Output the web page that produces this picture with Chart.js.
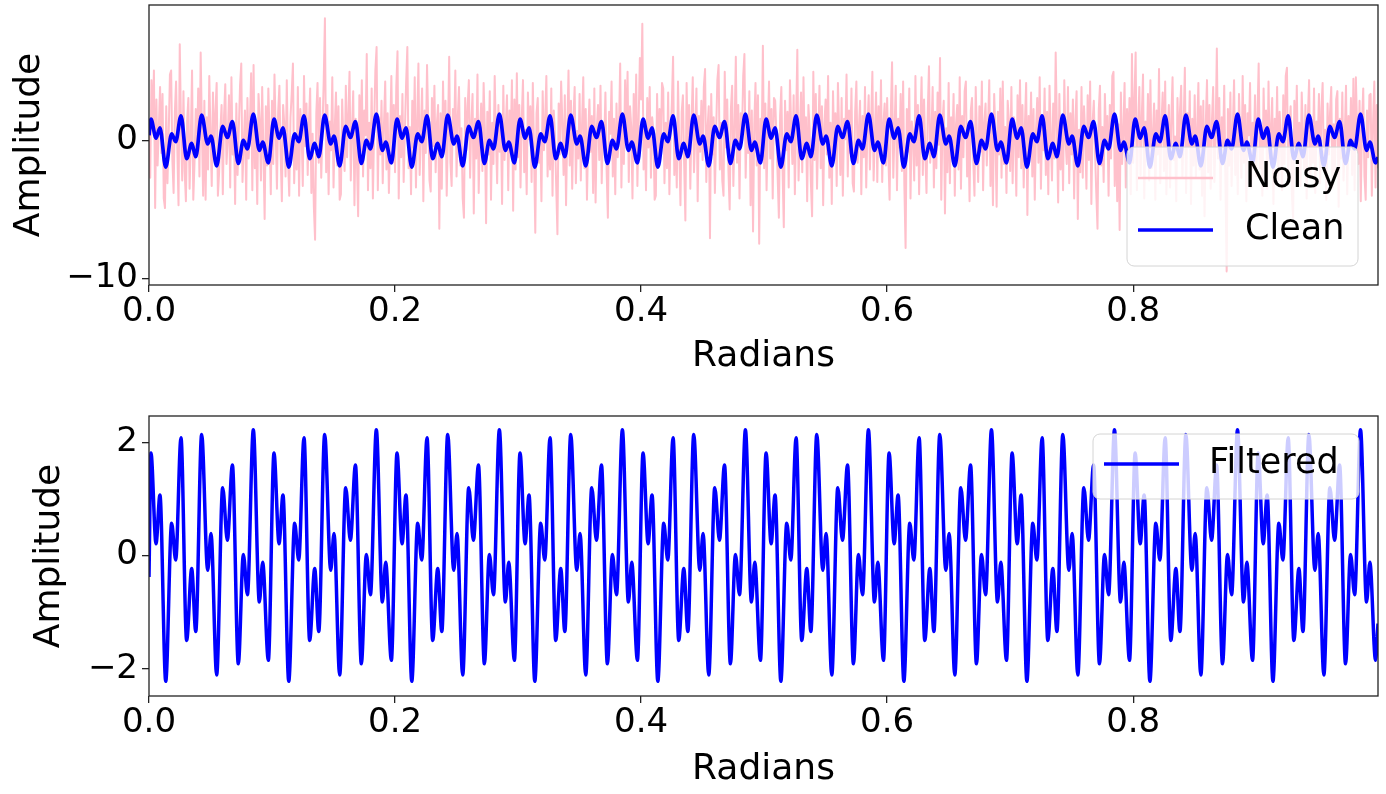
<!DOCTYPE html>
<html>
<head>
<meta charset="utf-8">
<script src="https://cdn.jsdelivr.net/npm/chart.js@4.4.1/dist/chart.umd.min.js"></script>
<style>
body { margin: 0; background: #fff; }
canvas { display: block; }
</style>
</head>
<body>
<canvas id="top-chart" width="1386" height="397"></canvas>
<canvas id="bottom-chart" width="1386" height="397"></canvas>
<script>
// turning points of the clean / filtered waves (seconds)
const waveTimes = [
    0,
    0.0016, 0.0057, 0.0089, 0.0136, 0.0184, 0.0217, 0.0260, 0.0306, 0.0347, 0.0380, 0.0428, 0.0477, 0.0504, 0.0550, 0.0599, 0.0637, 0.0678, 0.0726, 0.0767, 0.0800, 0.0848, 0.0897, 0.0924, 0.0970,
    0.1016, 0.1057, 0.1089, 0.1136, 0.1184, 0.1217, 0.1260, 0.1306, 0.1347, 0.1380, 0.1428, 0.1477, 0.1504, 0.1550, 0.1599, 0.1637, 0.1678, 0.1726, 0.1767, 0.1800, 0.1848, 0.1897, 0.1924, 0.1970,
    0.2016, 0.2057, 0.2089, 0.2136, 0.2184, 0.2217, 0.2260, 0.2306, 0.2347, 0.2380, 0.2428, 0.2477, 0.2504, 0.2550, 0.2599, 0.2637, 0.2678, 0.2726, 0.2767, 0.2800, 0.2848, 0.2897, 0.2924, 0.2970,
    0.3016, 0.3057, 0.3089, 0.3136, 0.3184, 0.3217, 0.3260, 0.3306, 0.3347, 0.3380, 0.3428, 0.3477, 0.3504, 0.3550, 0.3599, 0.3637, 0.3678, 0.3726, 0.3767, 0.3800, 0.3848, 0.3897, 0.3924, 0.3970,
    0.4016, 0.4057, 0.4089, 0.4136, 0.4184, 0.4217, 0.4260, 0.4306, 0.4347, 0.4380, 0.4428, 0.4477, 0.4504, 0.4550, 0.4599, 0.4637, 0.4678, 0.4726, 0.4767, 0.4800, 0.4848, 0.4897, 0.4924, 0.4970,
    0.5016, 0.5057, 0.5089, 0.5136, 0.5184, 0.5217, 0.5260, 0.5306, 0.5347, 0.5380, 0.5428, 0.5477, 0.5504, 0.5550, 0.5599, 0.5637, 0.5678, 0.5726, 0.5767, 0.5800, 0.5848, 0.5897, 0.5924, 0.5970,
    0.6016, 0.6057, 0.6089, 0.6136, 0.6184, 0.6217, 0.6260, 0.6306, 0.6347, 0.6380, 0.6428, 0.6477, 0.6504, 0.6550, 0.6599, 0.6637, 0.6678, 0.6726, 0.6767, 0.6800, 0.6848, 0.6897, 0.6924, 0.6970,
    0.7016, 0.7057, 0.7089, 0.7136, 0.7184, 0.7217, 0.7260, 0.7306, 0.7347, 0.7380, 0.7428, 0.7477, 0.7504, 0.7550, 0.7599, 0.7637, 0.7678, 0.7726, 0.7767, 0.7800, 0.7848, 0.7897, 0.7924, 0.7970,
    0.8016, 0.8057, 0.8089, 0.8136, 0.8184, 0.8217, 0.8260, 0.8306, 0.8347, 0.8380, 0.8428, 0.8477, 0.8504, 0.8550, 0.8599, 0.8637, 0.8678, 0.8726, 0.8767, 0.8800, 0.8848, 0.8897, 0.8924, 0.8970,
    0.9016, 0.9057, 0.9089, 0.9136, 0.9184, 0.9217, 0.9260, 0.9306, 0.9347, 0.9380, 0.9428, 0.9477, 0.9504, 0.9550, 0.9599, 0.9637, 0.9678, 0.9726, 0.9767, 0.9800, 0.9848, 0.9897, 0.9924, 0.9970,
    0.999
];

const cleanValues = [
    0.40,
    1.57, 0.18, 0.93, -1.93, 0.50, -0.07, 1.81, -1.31, -0.20, -1.17, 1.86, -0.23, 0.34, -1.84, 1.04, 0.23, 1.39, -1.66, 0.02, -0.60, 1.93, -0.71, -0.10, -1.61,
    1.57, 0.18, 0.93, -1.93, 0.50, -0.07, 1.81, -1.31, -0.20, -1.17, 1.86, -0.23, 0.34, -1.84, 1.04, 0.23, 1.39, -1.66, 0.02, -0.60, 1.93, -0.71, -0.10, -1.61,
    1.57, 0.18, 0.93, -1.93, 0.50, -0.07, 1.81, -1.31, -0.20, -1.17, 1.86, -0.23, 0.34, -1.84, 1.04, 0.23, 1.39, -1.66, 0.02, -0.60, 1.93, -0.71, -0.10, -1.61,
    1.57, 0.18, 0.93, -1.93, 0.50, -0.07, 1.81, -1.31, -0.20, -1.17, 1.86, -0.23, 0.34, -1.84, 1.04, 0.23, 1.39, -1.66, 0.02, -0.60, 1.93, -0.71, -0.10, -1.61,
    1.57, 0.18, 0.93, -1.93, 0.50, -0.07, 1.81, -1.31, -0.20, -1.17, 1.86, -0.23, 0.34, -1.84, 1.04, 0.23, 1.39, -1.66, 0.02, -0.60, 1.93, -0.71, -0.10, -1.61,
    1.57, 0.18, 0.93, -1.93, 0.50, -0.07, 1.81, -1.31, -0.20, -1.17, 1.86, -0.23, 0.34, -1.84, 1.04, 0.23, 1.39, -1.66, 0.02, -0.60, 1.93, -0.71, -0.10, -1.61,
    1.57, 0.18, 0.93, -1.93, 0.50, -0.07, 1.81, -1.31, -0.20, -1.17, 1.86, -0.23, 0.34, -1.84, 1.04, 0.23, 1.39, -1.66, 0.02, -0.60, 1.93, -0.71, -0.10, -1.61,
    1.57, 0.18, 0.93, -1.93, 0.50, -0.07, 1.81, -1.31, -0.20, -1.17, 1.86, -0.23, 0.34, -1.84, 1.04, 0.23, 1.39, -1.66, 0.02, -0.60, 1.93, -0.71, -0.10, -1.61,
    1.57, 0.18, 0.93, -1.93, 0.50, -0.07, 1.81, -1.31, -0.20, -1.17, 1.86, -0.23, 0.34, -1.84, 1.04, 0.23, 1.39, -1.66, 0.02, -0.60, 1.93, -0.71, -0.10, -1.61,
    1.57, 0.18, 0.93, -1.93, 0.50, -0.07, 1.81, -1.31, -0.20, -1.17, 1.86, -0.23, 0.34, -1.84, 1.04, 0.23, 1.39, -1.66, 0.02, -0.60, 1.93, -0.71, -0.10, -1.61,
    -1.20
];

const filteredValues = [
    -0.38,
    1.81, 0.21, 1.07, -2.22, 0.57, -0.08, 2.08, -1.50, -0.23, -1.34, 2.14, -0.26, 0.39, -2.11, 1.20, 0.27, 1.60, -1.91, 0.02, -0.69, 2.22, -0.82, -0.12, -1.85,
    1.81, 0.21, 1.07, -2.22, 0.57, -0.08, 2.08, -1.50, -0.23, -1.34, 2.14, -0.26, 0.39, -2.11, 1.20, 0.27, 1.60, -1.91, 0.02, -0.69, 2.22, -0.82, -0.12, -1.85,
    1.81, 0.21, 1.07, -2.22, 0.57, -0.08, 2.08, -1.50, -0.23, -1.34, 2.14, -0.26, 0.39, -2.11, 1.20, 0.27, 1.60, -1.91, 0.02, -0.69, 2.22, -0.82, -0.12, -1.85,
    1.81, 0.21, 1.07, -2.22, 0.57, -0.08, 2.08, -1.50, -0.23, -1.34, 2.14, -0.26, 0.39, -2.11, 1.20, 0.27, 1.60, -1.91, 0.02, -0.69, 2.22, -0.82, -0.12, -1.85,
    1.81, 0.21, 1.07, -2.22, 0.57, -0.08, 2.08, -1.50, -0.23, -1.34, 2.14, -0.26, 0.39, -2.11, 1.20, 0.27, 1.60, -1.91, 0.02, -0.69, 2.22, -0.82, -0.12, -1.85,
    1.81, 0.21, 1.07, -2.22, 0.57, -0.08, 2.08, -1.50, -0.23, -1.34, 2.14, -0.26, 0.39, -2.11, 1.20, 0.27, 1.60, -1.91, 0.02, -0.69, 2.22, -0.82, -0.12, -1.85,
    1.81, 0.21, 1.07, -2.22, 0.57, -0.08, 2.08, -1.50, -0.23, -1.34, 2.14, -0.26, 0.39, -2.11, 1.20, 0.27, 1.60, -1.91, 0.02, -0.69, 2.22, -0.82, -0.12, -1.85,
    1.81, 0.21, 1.07, -2.22, 0.57, -0.08, 2.08, -1.50, -0.23, -1.34, 2.14, -0.26, 0.39, -2.11, 1.20, 0.27, 1.60, -1.91, 0.02, -0.69, 2.22, -0.82, -0.12, -1.85,
    1.81, 0.21, 1.07, -2.22, 0.57, -0.08, 2.08, -1.50, -0.23, -1.34, 2.14, -0.26, 0.39, -2.11, 1.20, 0.27, 1.60, -1.91, 0.02, -0.69, 2.22, -0.82, -0.12, -1.85,
    1.81, 0.21, 1.07, -2.22, 0.57, -0.08, 2.08, -1.50, -0.23, -1.34, 2.14, -0.26, 0.39, -2.11, 1.20, 0.27, 1.60, -1.91, 0.02, -0.69, 2.22, -0.82, -0.12, -1.85,
    -1.20
];

// noisy samples, one per millisecond (estimated, big spikes placed where the picture has them)
const noisyStep = 0.001;
const noisyValues = [
    1.6, -2.7, 4.4, 0.8, 5.1, -4.9, 3.0, -1.8, 1.0, 3.9, -0.9, 3.4, -4.2, -4.9, 2.5, -3.1, 0.4, 4.8, 5.1, -1.4,
    -3.8, 2.0, 4.3, -0.5, -4.7, 7.0, 1.2, -2.9, 3.6, -2.2, -4.4, 1.4, 3.1, -3.5, 0.3, 5.1, -4.3, -1.6, 2.3, -0.7,
    3.8, -2.6, 6.4, 0.9, -4.0, 2.9, -4.3, 1.7, -2.1, 4.7, 0.5, -3.3, 3.5, -1.2, 2.1, 4.2, -4.0, -2.3, 0.7, 2.6,
    -3.9, 1.8, 4.1, -1.7, 0.1, 3.3, -3.4, 4.6, -1.0, 1.3, -4.6, 2.7, -2.5, 0.8, 4.0, 5.6, -3.0, -0.3, 2.2, -4.3,
    3.1, -1.3, 1.0, 4.9, -3.6, 5.5, -2.0, 0.4, -4.6, 3.4, 1.6, -2.9, 3.9, -0.8, -5.7, 2.5, -1.8, 3.8, 0.5, -3.9,
    2.9, -1.7, 4.8, 0.7, -3.5, 2.1, 4.0, -1.0, -4.4, 2.6, 1.2, -2.6, 4.4, -1.4, -4.0, 1.7, 3.4, 5.6, -3.1, 0.3,
    -2.1, 3.9, -4.0, 2.3, 0.9, -3.3, 4.7, -0.4, 2.7, -2.5, 1.3, 3.8, -3.8, 0.5, -4.8, -7.2, 2.0, 4.2, -1.6, 3.1,
    -2.7, 0.8, 4.3, 8.9, -2.3, 2.6, -3.9, 1.4, -0.7, 4.6, -3.4, 1.0, 3.5, -1.8, 2.5, -4.3, -3.9, 3.0, 0.0, -2.2,
    4.0, -1.2, 1.8, 5.0, -2.9, 0.7, 3.6, -4.7, 1.6, -1.3, -5.5, 3.3, -0.8, 4.4, -2.6, 2.2, 0.4, 6.3, -3.6, 1.3,
    -2.0, 3.8, -4.2, 0.9, 5.1, 6.8, -3.6, 1.7, -1.0, 2.9, -3.1, 1.2, 4.3, -2.1, 2.0, -3.8, 0.3, 4.7, -1.6, 2.6,
    -2.3, 3.9, 6.5, -4.2, 1.8, -1.2, 3.4, -3.0, 0.7, 4.2, 6.8, -2.0, 1.0, -3.9, 2.9, -0.5, 4.6, -3.4, 1.4, 5.6,
    -2.5, 0.8, 3.8, -4.4, 2.2, -0.9, 5.5, 1.3, -2.9, -3.7, 3.1, -0.4, 4.0, -2.3, 1.2, 2.6, -6.4, 2.0, -3.5, 4.3,
    -0.8, 2.9, -4.0, 0.5, 6.1, -1.6, -3.3, 2.3, 0.1, 5.1, -2.6, 1.7, 3.9, -1.8, 0.9, -4.2, -5.6, 3.1, -0.7, 2.5,
    4.4, -2.7, 1.2, 3.4, -5.3, 1.6, -1.3, 4.8, -3.8, 0.4, 2.7, -2.2, 4.2, 0.8, -6.0, 2.1, -1.0, 3.6, -4.3, 1.3,
    -1.7, 4.7, 0.3, -3.1, 2.6, -0.8, 1.8, -4.6, 4.0, -1.4, 1.0, 3.3, -3.6, 2.2, -0.3, 4.4, -5.1, 3.0, -2.1, 4.9,
    -1.2, 2.6, -3.4, 1.7, 4.4, -2.3, 0.8, -3.9, 3.5, 0.1, 2.5, -3.0, 4.2, -0.9, -6.7, 2.0, 3.1, -1.6, 0.5, -4.4,
    3.6, -0.7, 1.4, 4.7, -2.6, 1.0, -2.1, 3.8, -4.0, 2.2, 0.4, -3.3, -6.8, 2.7, -1.0, 4.3, 1.3, -2.5, 3.3, -4.7,
    0.8, 5.1, -1.8, 2.9, -3.5, 1.6, 3.9, -3.1, 0.7, -1.3, 3.4, -2.9, 1.2, 4.6, -2.0, 2.3, -4.3, 0.3, 3.0, -0.8,
    1.8, -3.8, 3.8, -4.5, 0.9, 2.6, -1.4, 4.0, -3.1, 1.3, -0.4, 3.5, -2.2, -5.6, 2.1, 0.5, 4.3, -2.6, 1.6, -3.9,
    2.7, -1.2, 0.8, 5.6, -3.4, 2.0, -1.7, 4.4, -0.3, 5.0, -3.0, 2.5, 1.0, -4.2, 3.4, -1.3, 4.8, -3.3, 1.4, 6.0,
    3.0, 8.5, -2.1, 1.2, -3.6, 3.1, -0.5, 3.9, -2.7, 1.7, 0.7, -4.3, -4.0, 3.4, -1.6, 2.3, -0.9, 4.2, 3.8, -3.1,
    1.3, -2.0, 3.5, -3.9, 0.5, 2.7, 6.1, -2.5, 1.0, -3.4, 4.3, -0.3, -4.7, 2.1, 3.3, -1.7, -5.8, 4.2, -1.2, 2.6,
    -3.5, 1.4, 4.6, -2.3, 0.4, 3.8, -4.4, 1.8, -0.8, 2.9, -1.4, 3.9, 5.2, -3.0, 0.9, 2.5, -7.1, 3.4, -1.0, 1.7,
    -3.8, 0.7, 4.4, 5.5, -2.1, 1.3, -2.9, -4.0, 5.0, -0.5, 3.0, -2.2, -5.0, 2.3, 4.0, -3.3, 0.8, 6.1, -1.6, 2.6,
    -4.2, 2.0, 0.3, 4.7, 6.3, -2.7, 1.4, -0.9, 3.6, -4.7, 2.2, -6.6, 1.2, 4.2, -1.8, 3.3, -7.5, 1.6, -0.4, 6.9,
    -2.0, 2.7, -3.6, 0.8, 4.3, -1.3, 2.3, -4.2, 3.1, 2.9, 0.4, -2.6, -5.6, 1.8, 3.9, -2.2, -6.3, 2.9, -0.7, 2.1,
    -3.4, 4.4, 1.0, -1.7, 3.3, -3.9, 1.4, 6.6, -2.9, 0.5, 3.5, -2.3, 4.6, -0.8, 1.7, -4.4, 2.6, 0.9, -3.0, -5.5,
    5.0, -1.4, 3.4, -3.5, 0.3, 4.0, -2.0, 2.5, -4.7, 1.2, 3.0, -1.0, 4.7, -2.7, 1.3, -4.6, 3.6, -0.4, 2.0, -3.3,
    4.2, 0.8, -2.5, 3.1, -4.0, 1.6, 0.1, 4.8, -2.6, 2.2, -0.9, 3.8, -3.1, -3.7, 2.1, 4.3, -1.6, 0.7, 2.9, -3.9,
    1.8, -1.2, 3.9, -3.4, 1.0, 3.3, -2.1, 1.4, 5.0, -2.9, 0.4, 3.5, -3.0, 2.5, -0.7, 4.4, -3.0, 1.3, 2.7, -1.8,
    3.1, -1.3, -4.3, 2.0, 5.7, -2.7, 0.8, 4.0, -3.6, 1.6, -0.5, 3.4, -2.2, 4.3, -3.3, -7.8, 2.3, -0.8, 3.8, -4.2,
    1.4, 0.5, -2.9, 4.7, -1.8, 2.6, -3.9, 1.0, 4.6, -2.5, 3.0, -0.9, -3.8, 2.0, 5.4, -1.6, 0.4, 3.9, -3.4, 2.1,
    -2.0, 3.5, -0.3, 6.0, -4.3, 1.3, 2.9, -5.3, 0.9, -2.3, 4.2, -3.1, 1.7, -0.7, 3.4, -4.0, 1.2, 2.6, -2.1, 4.6,
    -3.5, 1.8, -1.2, 3.6, 4.3, -2.6, 0.7, -4.4, 2.2, 3.1, -1.4, -4.0, 3.9, 0.3, -3.0, 2.5, -0.8, 4.3, -3.6, 1.3,
    2.7, -1.8, 0.9, 4.4, -3.3, 1.6, -4.7, 3.4, 0.5, -4.8, 2.1, -1.0, 3.8, -2.7, 4.3, -1.7, 1.0, -3.8, 2.9, 1.4,
    -2.2, 3.9, -3.1, 1.7, 0.8, -4.0, 3.3, -1.2, 4.4, -2.0, 2.6, -3.4, 1.2, 4.2, -5.4, 1.8, -0.4, 3.5, -2.6, 2.3,
    -4.3, 0.7, 3.1, -1.6, 4.6, -3.5, 1.3, -0.7, 3.8, -2.5, 2.1, -3.9, 4.0, 0.4, -2.9, 2.7, -1.3, 6.4, 1.0, -4.5,
    3.4, -2.1, 1.6, -3.6, 4.4, 0.1, -1.7, 3.9, -3.1, 2.0, -1.0, 3.0, -4.2, 1.4, 3.6, -5.7, 0.8, -2.3, 3.9, -2.7,
    2.5, 0.5, -3.5, 3.3, -1.4, 4.3, -4.6, 1.3, 2.9, -0.8, -3.8, -6.4, 2.2, 4.0, -1.8, 1.0, -3.0, 3.4, -0.3, 1.8,
    -4.0, 2.6, -1.3, 4.7, 5.0, -3.3, 1.6, -4.4, 1.2, -6.5, 3.5, -1.7, 0.7, 4.2, -3.4, 2.3, -0.9, 3.1, -3.9, 6.3,
    -1.6, 3.0, 6.4, -3.6, 0.9, 3.9, -2.5, 1.8, 4.8, -4.2, 1.4, -0.8, 3.4, -2.9, 4.4, -2.0, 0.4, 2.7, -4.3, 2.2,
    -1.0, 5.2, -3.1, 1.3, 3.5, -2.2, 4.3, -3.9, 0.7, 2.6, -3.4, 1.7, 4.6, -1.4, 0.3, -4.4, 3.1, -1.2, 2.1, 4.0,
    -2.7, 1.0, 5.3, -3.8, 2.0, -0.5, 3.6, -4.6, 1.6, -1.8, 3.3, -2.6, 0.8, 4.2, -2.1, 2.5, -4.0, 2.9, -5.5, 1.2,
    4.4, -2.3, 2.6, -3.5, 1.4, 3.9, -3.0, 0.5, 6.7, -1.3, 3.1, -4.3, 1.7, -0.7, 4.0, -2.9, -9.5, 2.3, -1.8, 3.5,
    -3.3, 0.9, 4.4, -2.5, 1.6, -3.9, 3.4, 0.1, -2.7, 4.7, -1.6, 2.6, -4.4, 2.0, 0.4, 4.2, -3.4, 1.3, -0.9, 3.3,
    -2.6, 1.8, 5.6, -2.0, 1.0, -4.0, 3.8, -0.5, 2.2, -3.5, 4.3, -1.3, 0.8, 3.1, -4.6, 1.6, -1.2, 3.9, -2.9, 2.1,
    0.3, -3.6, 3.3, -1.7, 4.7, 5.3, -3.1, 0.9, 2.5, -3.9, -5.6, 2.9, -0.8, 4.0, -2.3, 1.3, -3.3, 3.5, 0.5, -2.1,
    2.6, -4.2, 1.7, 4.4, -2.7, 0.7, -1.6, 3.8, -3.8, 1.4, -0.4, 3.4, -3.1, 2.3, 4.2, -2.0, 0.8, -4.3, 2.7, -1.0,
    2.0, 3.9, -3.4, 1.2, -2.2, 3.0, 3.6, -4.8, 1.6, -1.3, 3.5, -2.9, 0.4, 4.0, -3.9, 1.8, -0.7, 3.1, -2.5, 4.5,
    -3.6, 4.6, 1.0, -1.7, 2.9, -4.4, 1.3, 3.8, -2.6, -4.3, 2.2, -1.2, 3.3, 3.4, -4.0, 1.4, 4.3, -3.4, 2.6, -2.0
];

const xTickValues = [0, 0.2, 0.4, 0.6, 0.8];

const FONT = "'DejaVu Sans', sans-serif";
Chart.defaults.font.family = FONT;
Chart.defaults.color = '#000';

// frame on all four sides + matplotlib-like legend inside the axes
const framePlugin = {
    id: 'frame',
    afterDraw(chart, args, opts) {
        const { ctx, chartArea: a } = chart;
        ctx.save();
        ctx.strokeStyle = '#222';
        ctx.lineWidth = 1.3;
        ctx.strokeRect(a.left, a.top, a.right - a.left, a.bottom - a.top);

        const b = opts.box;
        ctx.beginPath();
        ctx.roundRect(b.x, b.y, b.w, b.h, 7);
        ctx.fillStyle = 'rgba(255,255,255,0.8)';
        ctx.fill();
        ctx.strokeStyle = '#d4d4d4';
        ctx.lineWidth = 1;
        ctx.stroke();

        ctx.font = '35px ' + FONT;
        ctx.textBaseline = 'middle';
        opts.items.forEach(item => {
            ctx.strokeStyle = item.color;
            ctx.lineWidth = item.width;
            ctx.beginPath();
            ctx.moveTo(item.x0, item.y);
            ctx.lineTo(item.x1, item.y);
            ctx.stroke();
            ctx.fillStyle = '#000';
            ctx.fillText(item.label, item.tx, item.y);
        });
        ctx.restore();
    }
};

function toPoints(xs, ys) {
    return ys.map((y, i) => ({ x: xs[i], y: y }));
}

function minusSign(v) {
    return v < 0 ? '\u2212' + Math.abs(v) : String(v);
}

function makeScales(yMin, yMax, yStep, yTitlePad, xHeight, xTitlePad) {
    return {
        x: {
            type: 'linear',
            min: 0,
            max: 0.999,
            afterFit: s => {
                s.height = xHeight;
                s.paddingLeft = 0;
                s.paddingRight = 0;
            },
            afterBuildTicks: s => { s.ticks = xTickValues.map(v => ({ value: v })); },
            ticks: {
                font: { size: 34 },
                color: '#000',
                padding: 0,
                maxRotation: 0,
                autoSkip: false,
                callback: v => v.toFixed(1)
            },
            grid: { drawOnChartArea: false, drawTicks: true, tickLength: 7, color: '#222', lineWidth: 1.3 },
            border: { display: false },
            title: { display: true, text: 'Radians', font: { size: 36 }, color: '#000', padding: { top: 0, bottom: xTitlePad } }
        },
        y: {
            type: 'linear',
            min: yMin,
            max: yMax,
            afterFit: s => {
                s.width = 149;
                s.paddingTop = 0;
                s.paddingBottom = 0;
            },
            ticks: {
                stepSize: yStep,
                includeBounds: false,
                font: { size: 34 },
                color: '#000',
                padding: 4,
                callback: minusSign
            },
            grid: { drawOnChartArea: false, drawTicks: true, tickLength: 7, color: '#222', lineWidth: 1.3 },
            border: { display: false },
            title: { display: true, text: 'Amplitude', font: { size: 36 }, color: '#000', padding: { top: yTitlePad, bottom: 0 } }
        }
    };
}

new Chart(document.getElementById('top-chart'), {
    type: 'line',
    data: {
        datasets: [{
            label: 'Clean',
            data: toPoints(waveTimes, cleanValues),
            borderColor: '#0000ff',
            borderWidth: 3.7,
            cubicInterpolationMode: 'monotone',
            borderJoinStyle: 'round',
            pointRadius: 0,
            clip: 0
        }, {
            label: 'Noisy',
            data: noisyValues.map((y, i) => ({ x: i * noisyStep, y: y })),
            borderColor: '#ffc0cb',
            borderWidth: 2,
            tension: 0,
            borderJoinStyle: 'round',
            pointRadius: 0,
            clip: 0
        }]
    },
    options: {
        responsive: false,
        animation: false,
        layout: { padding: { top: 5, right: 8, left: 0, bottom: 0 } },
        scales: makeScales(-10.49, 9.86, 10, 8.4, 112, 18.4),
        plugins: {
            legend: { display: false },
            tooltip: { enabled: false },
            frame: {
                box: { x: 1127, y: 147, w: 231, h: 119 },
                items: [
                    { label: 'Noisy', color: '#ffc0cb', width: 2.5, x0: 1138, x1: 1213, tx: 1245, y: 178 },
                    { label: 'Clean', color: '#0000ff', width: 3.5, x0: 1138, x1: 1213, tx: 1245, y: 230 }
                ]
            }
        }
    },
    plugins: [framePlugin]
});

new Chart(document.getElementById('bottom-chart'), {
    type: 'line',
    data: {
        datasets: [{
            label: 'Filtered',
            data: toPoints(waveTimes, filteredValues),
            borderColor: '#0000ff',
            borderWidth: 3.5,
            cubicInterpolationMode: 'monotone',
            borderJoinStyle: 'round',
            pointRadius: 0,
            clip: 0
        }]
    },
    options: {
        responsive: false,
        animation: false,
        layout: { padding: { top: 19, right: 8, left: 0, bottom: 0 } },
        scales: makeScales(-2.48, 2.465, 2, 28.4, 98, 2.4),
        plugins: {
            legend: { display: false },
            tooltip: { enabled: false },
            frame: {
                box: { x: 1093, y: 37, w: 266, h: 65 },
                items: [
                    { label: 'Filtered', color: '#0000ff', width: 3.5, x0: 1104, x1: 1179, tx: 1209, y: 67 }
                ]
            }
        }
    },
    plugins: [framePlugin]
});
</script>
</body>
</html>
